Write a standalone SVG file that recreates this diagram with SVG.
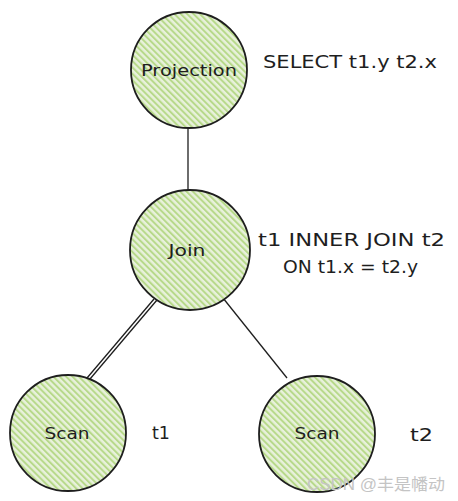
<svg xmlns="http://www.w3.org/2000/svg" width="458" height="501" viewBox="0 0 458 501">
<defs>
<pattern id="hatch" patternUnits="userSpaceOnUse" width="4.5" height="4.5" patternTransform="rotate(-45)">
<rect width="4.5" height="4.5" fill="#e8f1db"/>
<rect width="2" height="4.5" fill="#b7d98a"/>
</pattern>
<style>
.node{fill:url(#hatch);stroke:#1e1e1e;stroke-width:1.8}
.lbl{font-family:"DejaVu Sans","Liberation Sans",sans-serif;font-size:15px;fill:#1e1e1e;text-anchor:middle}
.note{font-family:"DejaVu Sans","Liberation Sans",sans-serif;font-size:17px;fill:#1e1e1e}
.edge{stroke:#1e1e1e;stroke-width:1.3;fill:none}
.wm{font-family:"Liberation Sans","Noto Sans CJK SC",sans-serif;font-size:16px;fill:#c4c4c4}
</style>
</defs>
<rect width="458" height="501" fill="#ffffff"/>
<g id="connectors">
<path class="edge" d="M188 127 L188 192"/>
<path class="edge" d="M154 299 L87 378"/>
<path class="edge" d="M157 300 L90 379"/>
<path class="edge" d="M223 298 L287 378"/>
</g>
<g id="projection">
<circle class="node" cx="189" cy="70" r="58"/>
<text class="lbl" x="189" y="76" textLength="96" lengthAdjust="spacingAndGlyphs">Projection</text>
</g>
<g id="join">
<circle class="node" cx="190" cy="250" r="60"/>
<text class="lbl" x="187" y="256" textLength="37" lengthAdjust="spacingAndGlyphs">Join</text>
</g>
<g id="scan1">
<circle class="node" cx="68" cy="433" r="58"/>
<text class="lbl" x="67" y="439" textLength="45" lengthAdjust="spacingAndGlyphs">Scan</text>
</g>
<g id="scan2">
<circle class="node" cx="317" cy="434" r="58"/>
<text class="lbl" x="317" y="439" textLength="45" lengthAdjust="spacingAndGlyphs">Scan</text>
</g>
<g id="notes">
<text class="note" x="263" y="68" textLength="174" lengthAdjust="spacingAndGlyphs">SELECT t1.y t2.x</text>
<text class="note" x="258" y="246" textLength="187" lengthAdjust="spacingAndGlyphs">t1 INNER JOIN t2</text>
<text class="note" x="283" y="273" textLength="135" lengthAdjust="spacingAndGlyphs">ON t1.x = t2.y</text>
<text class="note" x="152" y="439" textLength="18" lengthAdjust="spacingAndGlyphs">t1</text>
<text class="note" x="410" y="441" textLength="23" lengthAdjust="spacingAndGlyphs">t2</text>
</g>
<text class="wm" x="307" y="490" textLength="138" lengthAdjust="spacingAndGlyphs">CSDN @丰是幡动</text>
</svg>
